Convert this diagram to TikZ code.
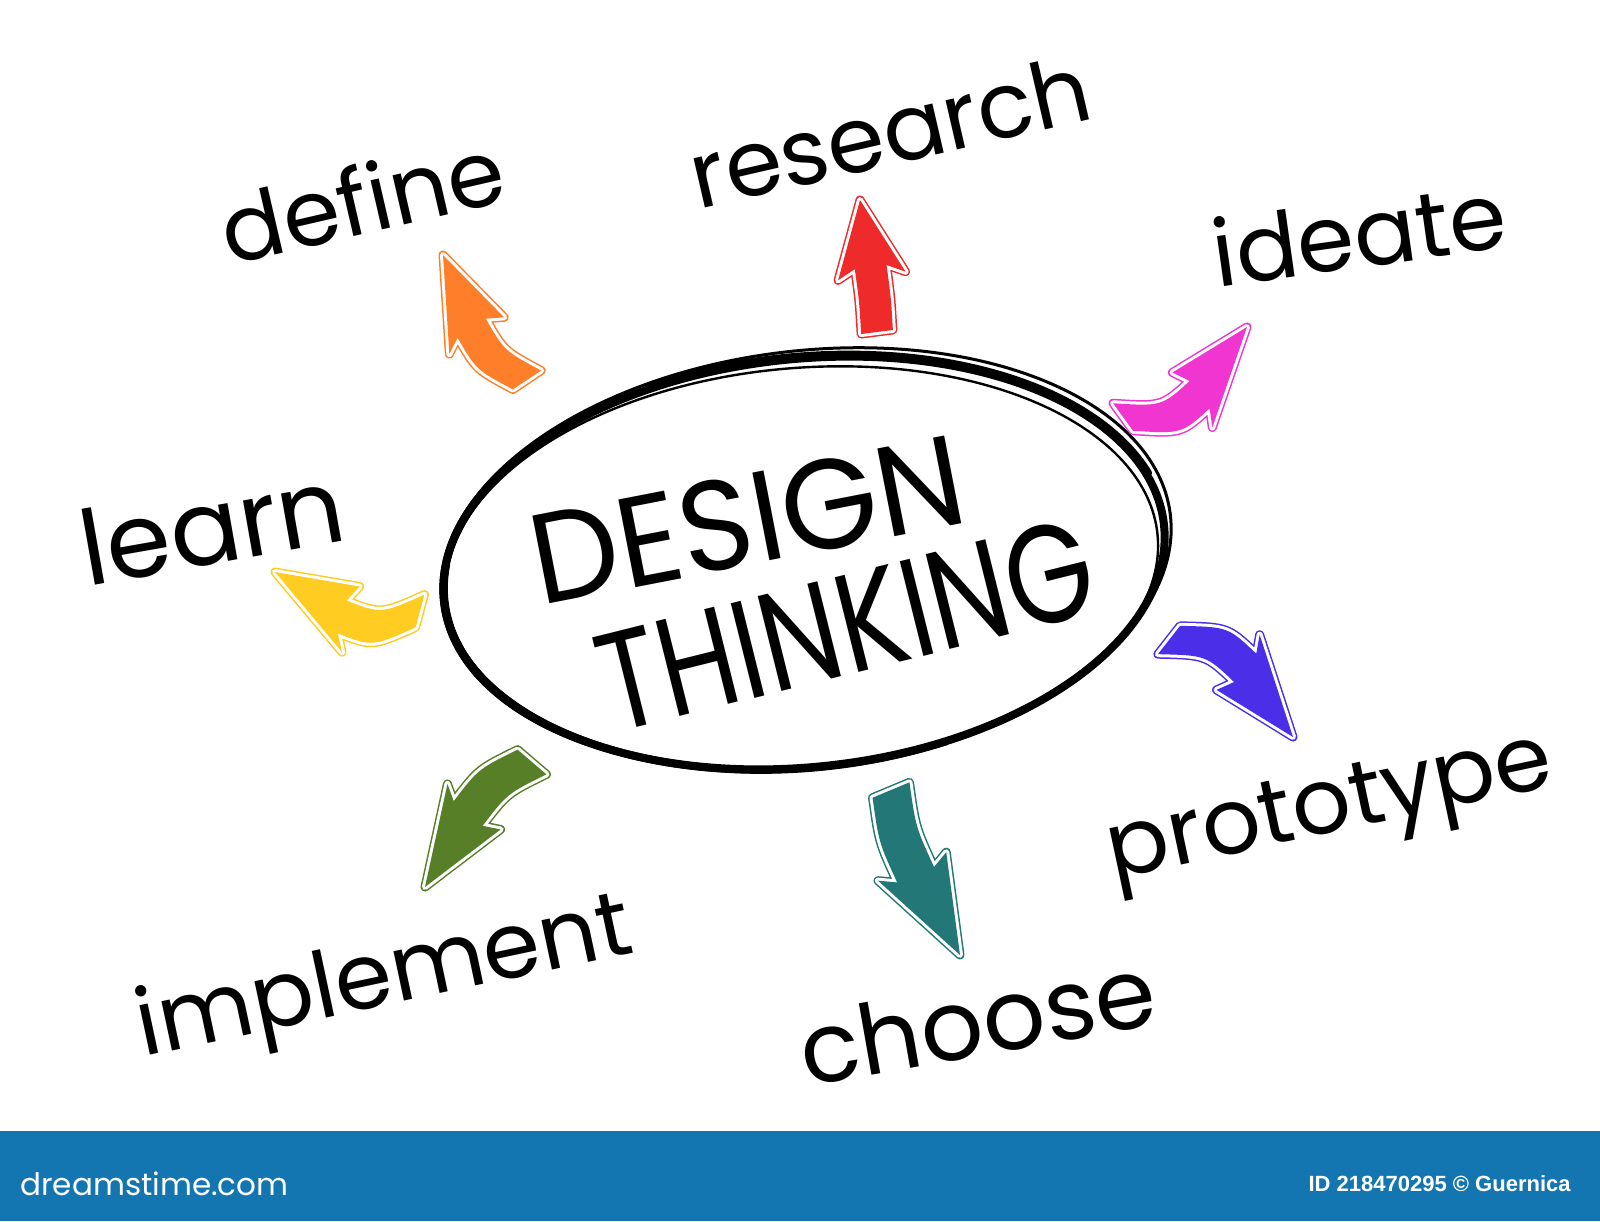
\documentclass[tikz,border=0pt]{standalone}
\usepackage{fontspec}
\setmainfont{Poppins}
\newfontfamily\idfont{Liberation Sans}
\definecolor{cOrange}{RGB}{255,126,41}
\definecolor{cRed}{RGB}{238,42,42}
\definecolor{cMagenta}{RGB}{240,53,208}
\definecolor{cBlue}{RGB}{74,46,232}
\definecolor{cYellow}{RGB}{255,204,34}
\definecolor{cGreen}{RGB}{86,127,40}
\definecolor{cTeal}{RGB}{35,119,119}
\definecolor{cBar}{RGB}{20,118,176}
\tikzset{
  word/.style={font=\fontsize{46}{50}\selectfont, inner sep=0pt, text=black},
  capword/.style={font=\fontsize{64}{70}\selectfont, inner sep=0pt, text=black},
  arrowbody/.style={line join=round,
    preaction={draw=#1, line width=4.5pt, line join=round},
    preaction={draw=white, line width=3pt, line join=round},
    fill=#1},
  brush/.style={draw=black, line cap=round}
}
% colour, base x, base y, tip x, tip y, neck offset, shaft half width, head half width
\newcommand\darr[8]{%
 \pgfmathsetmacro\Dx{#4-#2}%
 \pgfmathsetmacro\Dy{#5-#3}%
 \pgfmathsetmacro\Len{veclen(\Dx,\Dy)}%
 \pgfmathsetmacro\Ang{atan2(-\Dy,\Dx)}%
 \pgfmathsetmacro\Nu{0.49*\Len}%
 \pgfmathsetmacro\Nv{#6}%
 \pgfmathsetmacro\Cu{0.5*\Nu}%
 \pgfmathsetmacro\Cv{1.15*#6}%
 \begin{scope}[shift={(#2,#3)}, rotate=\Ang]
  \path[arrowbody=#1] (0,-#7) .. controls (\Cu,\Cv-#7) .. (\Nu,\Nv-#7) -- (\Nu-9,\Nv-#8) -- (\Len,0) -- (\Nu-9,\Nv+#8) -- (\Nu,\Nv+#7) .. controls (\Cu,\Cv+#7) .. (0,#7) -- cycle;
 \end{scope}}
\begin{document}
\begin{tikzpicture}[x=0.5pt,y=-0.5pt]
\useasboundingbox (0,0) rectangle (1600,1221);
\fill[white] (0,0) rectangle (1600,1221);
% bottom bar
\fill[cBar] (0,1131) rectangle (1600,1221);
\node[anchor=west, text=white, font=\fontsize{15.5}{18}\selectfont, inner sep=0pt] (site) at (20,1184) {dreamstime.com};
\node[anchor=east, text=white, font=\idfont\bfseries\fontsize{11}{13}\selectfont, inner sep=0pt] (imgid) at (1571,1184) {ID 218470295 © Guernica};
% central ellipse (brush strokes)
\draw[brush, line width=4pt, rotate around={6:(804,563)}] (804,563) ellipse [x radius=362, y radius=204];
\draw[brush, line width=1.5pt, rotate around={7:(806,559)}] (806,559) ellipse [x radius=367, y radius=208];
\draw[brush, line width=1.2pt, rotate around={5:(802,567)}] (802,567) ellipse [x radius=357, y radius=199];
\draw[brush, line width=3pt, rotate around={6:(804,563)}] ([shift={(-112:365 and 207)}]804,563) arc [start angle=-112, end angle=-15, x radius=365, y radius=207];
\draw[brush, line width=2.5pt, rotate around={6:(804,563)}] ([shift={(70:360 and 206)}]804,563) arc [start angle=70, end angle=190, x radius=360, y radius=206];
% centre text
\node[capword, rotate=11] (design) at (747,520) {\scalebox{0.97}[1]{DESIGN}};
\node[capword, rotate=14, font=\fontsize{70}{76}\selectfont] (thinking) at (846,625) {\scalebox{0.8}[1]{THINKING}};
% arrows
\darr{cOrange}{527}{380}{443}{255}{-17}{17}{33}
\darr{cRed}{877}{332}{860}{200}{2}{16}{34}
\darr{cMagenta}{1123}{417}{1247}{327}{27}{17}{34}
\darr{cBlue}{1169}{640}{1293}{737}{-25}{18}{35}
\darr{cYellow}{420}{611}{275}{572}{-26}{17}{34}
\darr{cGreen}{532}{762}{425}{887}{15}{19}{35}
\darr{cTeal}{891}{790}{960}{955}{10}{20}{37}
% words
\node[word, rotate=13] (define) at (362,199) {define};
\node[word, rotate=13] (research) at (890,131) {research};
\node[word, rotate=8] (ideate) at (1359,233) {ideate};
\node[word, rotate=10, font=\fontsize{52}{56}\selectfont] (learn) at (212,526) {learn};
\node[word, rotate=12] (prototype) at (1331,813) {prototype};
\node[word, rotate=12] (implement) at (385,982) {implement};
\node[word, rotate=10, font=\fontsize{49}{53}\selectfont] (choose) at (977,1020) {choose};
\end{tikzpicture}
\end{document}
